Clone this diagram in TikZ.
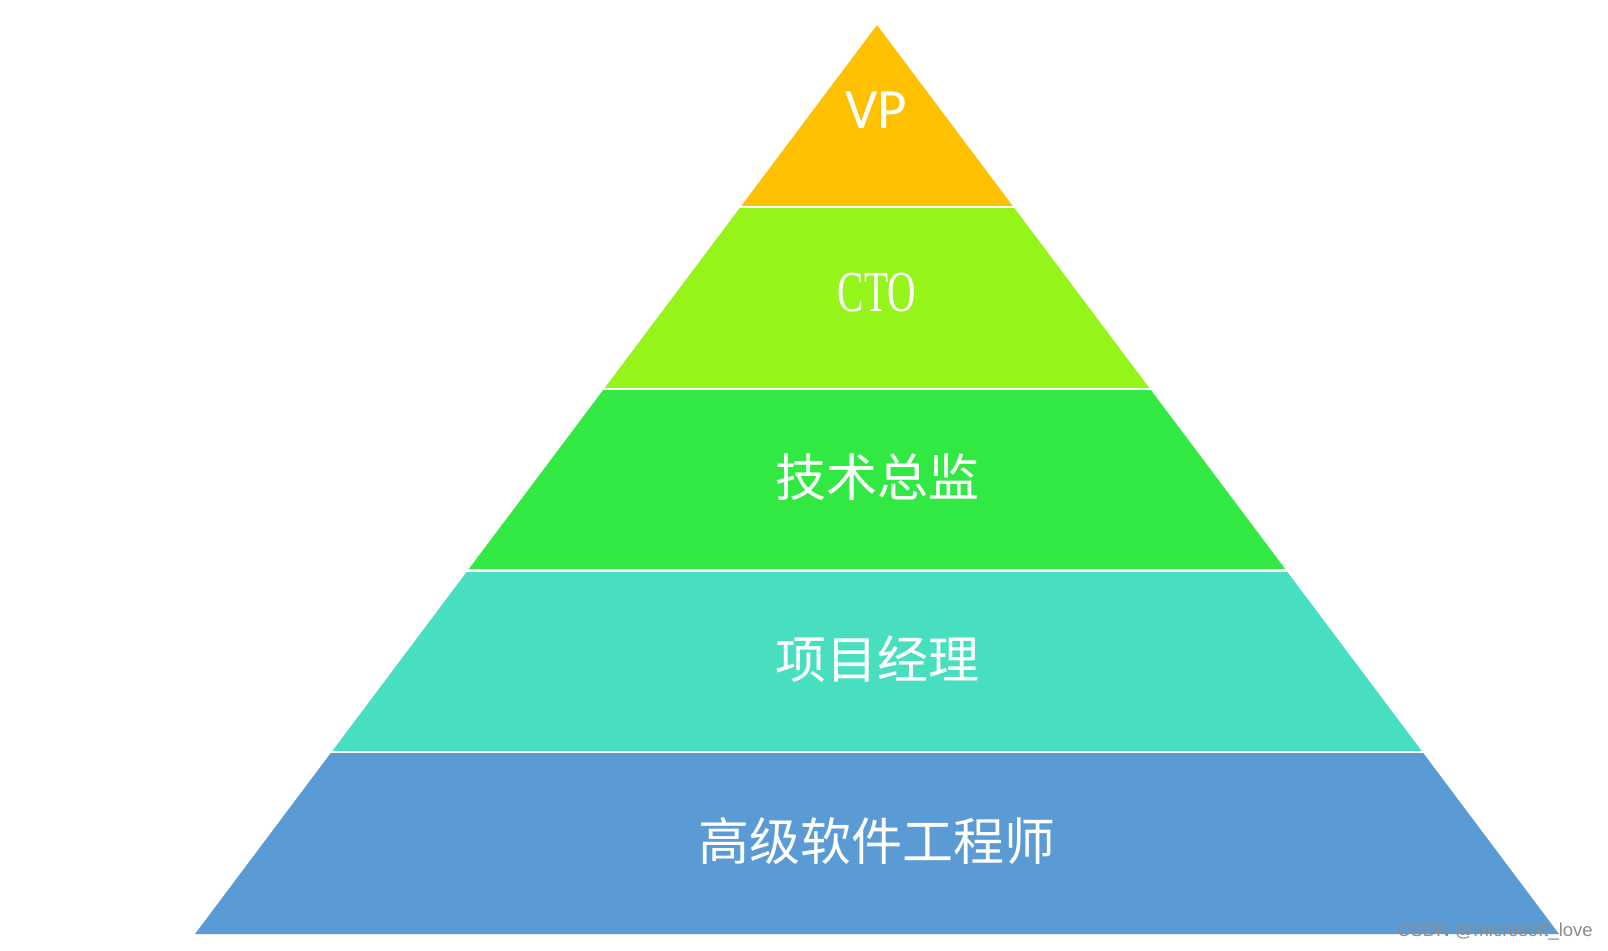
\documentclass[tikz,border=0pt]{standalone}
\usepackage{fontspec}
\setmainfont{Liberation Serif}
\newfontfamily\cjkfont{Noto Sans CJK SC}
\newfontfamily\vpfont{Carlito}
\newfontfamily\wmfont{Liberation Sans}
\definecolor{cVP}{RGB}{255,192,0}
\definecolor{cCTO}{RGB}{149,245,26}
\definecolor{cTD}{RGB}{50,233,67}
\definecolor{cPM}{RGB}{72,222,192}
\definecolor{cSE}{RGB}{91,155,213}
\definecolor{cWM}{RGB}{140,140,140}
\begin{document}
\begin{tikzpicture}[x=1pt,y=-1pt,
  sep/.style={draw=white,line width=2.2pt},
  lbl/.style={text=white,inner sep=0pt,anchor=center},
  cjk/.style={lbl,font=\cjkfont\fontsize{51}{51}\selectfont}]
\useasboundingbox (0,0) rectangle (1608,950);
\fill[white] (0,0) rectangle (1608,950);
% bands
\fill[cVP]  (877,25) -- (1013.4,206.8) -- (740.6,206.8) -- cycle;
\fill[cCTO] (740.6,206.8) -- (1013.4,206.8) -- (1149.8,388.6) -- (604.2,388.6) -- cycle;
\fill[cTD]  (604.2,388.6) -- (1149.8,388.6) -- (1286.2,570.4) -- (467.8,570.4) -- cycle;
\fill[cPM]  (467.8,570.4) -- (1286.2,570.4) -- (1422.6,752.2) -- (331.4,752.2) -- cycle;
\fill[cSE]  (331.4,752.2) -- (1422.6,752.2) -- (1559,934) -- (195,934) -- cycle;
% separators
\coordinate (s1l) at (700,206.8); \coordinate (s1r) at (1055,206.8);
\coordinate (s2l) at (560,388.6); \coordinate (s2r) at (1195,388.6);
\coordinate (s3l) at (420,570.4); \coordinate (s3r) at (1335,570.4);
\coordinate (s4l) at (280,752.2); \coordinate (s4r) at (1475,752.2);
\draw[sep] (s1l) -- (s1r);
\draw[sep] (s2l) -- (s2r);
\draw[sep] (s3l) -- (s3r);
\draw[sep] (s4l) -- (s4r);
% labels
\node[lbl,font=\vpfont\fontsize{57}{57}\selectfont] (vp) at (876,110) {VP};
\node[lbl,font=\fontsize{58}{58}\selectfont] (cto) at (877,293) {\scalebox{0.68}[1]{CTO}};
\node[cjk] (td) at (877,477) {技术总监};
\node[cjk] (pm) at (877,659) {项目经理};
\node[cjk] (se) at (877,841) {高级软件工程师};
\node[inner sep=0pt,anchor=east,text=cWM,font=\wmfont\fontsize{18.5}{18.5}\selectfont] (wm) at (1593,932) {CSDN @microsoft\_love};
\end{tikzpicture}
\end{document}
